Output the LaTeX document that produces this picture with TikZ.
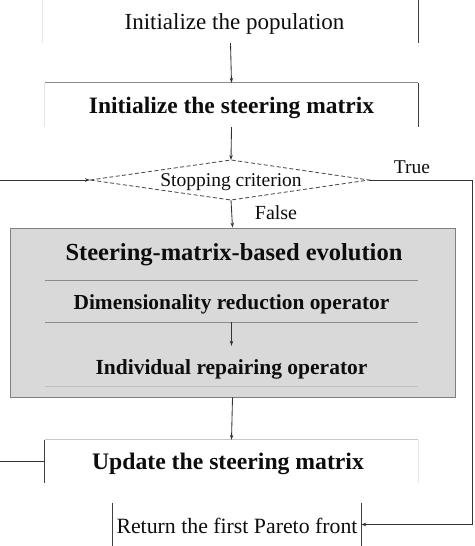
\documentclass[tikz,border=0pt]{standalone}
\usepackage{fontspec}
\setmainfont{Liberation Serif}
\usetikzlibrary{arrows.meta}
\newcommand{\nudgetext}[3]{\raisebox{#2}[\height][\depth]{#1#3}}
\begin{document}
\begin{tikzpicture}[x=1pt,y=-1pt,
  arr/.style={draw=black!80, line width=0.85pt, -{Stealth[length=5pt,width=3.5pt]}},
  boxn/.style={draw=none, inner sep=0pt, minimum width=373, minimum height=43, text=black!95},
  txt/.style={inner sep=0pt, text=black!95},
  bline/.style={draw=black!75, line width=0.95pt},
  soft/.style={draw=black!45, line width=0.85pt},
  faint/.style={draw=black!10, line width=0.8pt},
  dashline/.style={draw=black!70, line width=0.85pt, dash pattern=on 4pt off 2.5pt}
]
\useasboundingbox (0,0) rectangle (474,546);

% boxes
\node[boxn, minimum width=375] (pop) at (230.5,21.5) {\fontsize{23}{27}\selectfont\nudgetext{\hspace*{8pt}}{-2.5pt}{Initialize the population}};
\node[boxn, minimum height=44] (init) at (231.5,105) {\bfseries\fontsize{23.5}{28}\selectfont\nudgetext{}{-3pt}{Initialize the steering matrix}};

% diamond
\coordinate (dl) at (90,180);
\coordinate (dt) at (231,160);
\coordinate (dr) at (369,180);
\coordinate (db) at (231,200);
\draw[dashline] (dl) -- (dt) -- (dr) -- (db) -- cycle;
\node[txt] (stop) at (231,182.5) {\fontsize{19.5}{23}\selectfont Stopping criterion};
\node[txt] (true) at (412,167) {\fontsize{19.5}{23}\selectfont True};
\node[txt] (false) at (276,213) {\fontsize{20}{24}\selectfont False};

% grey block
\node[draw=black!50, fill=black!15, line width=0.9pt, minimum width=445, minimum height=169, inner sep=0pt] (evo) at (232.5,312.5) {};
\node[txt] (evot) at (234,255) {\bfseries\fontsize{24.5}{29}\selectfont Steering-matrix-based evolution};
\node[boxn, minimum height=41] (dim) at (231.5,301.5) {\bfseries\fontsize{21.4}{25}\selectfont\nudgetext{}{-3pt}{Dimensionality reduction operator}};
\node[boxn, minimum height=40] (ind) at (231.5,366) {\bfseries\fontsize{21.5}{25}\selectfont\nudgetext{}{-3pt}{Individual repairing operator}};

\node[boxn] (upd) at (231.5,461.5) {\bfseries\fontsize{23.7}{28}\selectfont\nudgetext{}{-2.5pt}{Update the steering matrix\hspace*{7pt}}};
\node[boxn, minimum width=248] (ret) at (237,524.5) {\fontsize{21.8}{26}\selectfont\nudgetext{}{-1pt}{Return the first Pareto front}};

% box edges
\draw[faint] (pop.north west) -- (pop.south west);
\draw[bline] (pop.north east) -- (pop.south east);
\draw[soft] (init.north west) -- (init.north east);
\draw[bline] (init.north east) -- (init.south east);
\draw[faint] (init.north west) -- (init.south west);
\draw[soft] (dim.north west) -- (dim.north east);
\draw[soft] (dim.south west) -- (dim.south east);
\draw[draw=black!25, line width=0.8pt] (ind.south west) -- (ind.south east);
\draw[draw=black!22, line width=0.8pt] (upd.north west) -- (upd.north east);
\draw[bline] (upd.north west) -- (upd.south west);
\draw[faint] (upd.north east) -- (upd.south east);
\draw[bline] (ret.north west) -- (ret.south west);
\draw[bline] (ret.north east) -- (ret.south east);

% connectors
\draw[arr] (pop.south) -- (init.north);
\draw[arr] (init.south) -- (dt);
\draw[arr] (db) -- (evo.north);
\draw[arr] (dim.south) -- (ind.north);
\draw[arr] (evo.south) -- (upd.north);
\draw[arr] (upd.west) -- ++(-47,0) |- (dl);
\draw[arr] (dr) -- ++(103,0) |- (ret.east);
\end{tikzpicture}
\end{document}
